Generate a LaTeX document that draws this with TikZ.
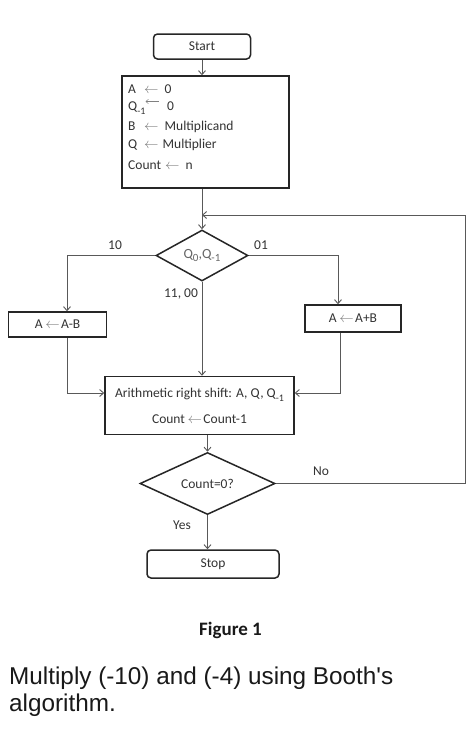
\documentclass[tikz,border=0pt]{standalone}
\usepackage{fontspec}
\setmainfont{Carlito}
\newfontfamily\qfont{Liberation Sans}
\usetikzlibrary{shapes.geometric,arrows.meta}
\newcommand{\la}{{\color{black!50}$\leftarrow$}}
\newcommand{\lead}[1]{\makebox[16pt][l]{#1}}
\newcommand{\sbm}[1]{\raisebox{-.6ex}{\fontsize{10}{11}\selectfont #1}}
\begin{document}
\begin{tikzpicture}[x=1pt,y=-1pt,
  every node/.style={font=\fontsize{13.5}{15}\selectfont, text=black!80},
  blk/.style={draw=black!85, line width=1.5pt, inner sep=0pt},
  rblk/.style={blk, rounded corners=4pt},
  dia/.style={blk, diamond, inner sep=0pt},
  conn/.style={draw=black!65, line width=0.9pt},
  arr/.style={conn, -{Straight Barb[length=4pt,width=7pt]}},
  tinyarr/.style={draw=black!50, line width=0.45pt, {Straight Barb[length=2.6pt,width=4.5pt]}-},
  lbl/.style={inner sep=0pt}
]
\fill[white] (0,0) rectangle (474,729);
\useasboundingbox (0,0) rectangle (474,729);

% boxes
\node[rblk, minimum width=97pt, minimum height=25pt] (start) at (202,46.5) {Start};
\node[blk, minimum width=167pt, minimum height=112pt] (init) at (205.5,132) {};
\node[lbl, anchor=west] (i1) at (128,89) {\lead{A}\la\hspace{.45em}0};
\node[lbl, anchor=west] (i2) at (128,108) {\lead{Q\sbm{-1}}\hspace{1.7em}0};
\coordinate (qa1) at (145.5,101.5);
\coordinate (qa2) at (158.5,101.5);
\draw[tinyarr] (qa1) -- (qa2);
\node[lbl, anchor=west] (i3) at (128,127) {\lead{B}\la\hspace{.45em}Multiplicand};
\node[lbl, anchor=west] (i4) at (128,145) {\lead{Q}\la\hspace{.3em}Multiplier};
\node[lbl, anchor=west] (i5) at (128,165) {Count\hspace{.3em}\la\hspace{.45em}n};

\node[dia, minimum width=92pt, minimum height=51pt] (d1) at (202,255.5)
  {\textcolor{black!60}{\fontsize{14}{16}\selectfont Q\raisebox{-.45ex}{\fontsize{11}{12}\selectfont 0},Q\raisebox{-.45ex}{\fontsize{11}{12}\selectfont -1}}};
\node[blk, minimum width=98pt, minimum height=25pt] (amb) at (57.5,324.5) {A\hspace{.2em}\la\hspace{.1em}A-B};
\node[blk, minimum width=96pt, minimum height=27pt] (apb) at (353,318.5) {A\hspace{.2em}\la\hspace{.1em}A+B};
\node[blk, minimum width=189pt, minimum height=58pt, align=center,
  font=\fontsize{13.5}{26}\selectfont] (ars) at (199.5,405.5)
  {Arithmetic right shift: A, Q, Q\sbm{-1}\\Count\hspace{.2em}\la\hspace{.1em}Count-1};
\node[dia, minimum width=135pt, minimum height=47pt] (d2) at (207.5,483.5) {Count=0?};
\node[rblk, minimum width=132pt, minimum height=28pt] (stop) at (213,564) {Stop};

% labels
\node[lbl] (l10) at (115,245) {10};
\node[lbl] (l01) at (261,245) {01};
\node[lbl] (l11) at (181,294) {11, 00};
\node[lbl] (lno) at (321,471) {No};
\node[lbl] (lyes) at (182,525) {Yes};

% connectors
\coordinate (loopend) at (202,215);
\coordinate (rt) at (465,215);
\draw[arr] (start.south) -- (start.south |- init.north);
\draw[arr] (init.south -| d1.north) -- (d1.north);
\draw[arr] (d2.east) -| (rt) -- (loopend);
\draw[arr] (d1.west) -| ([xshift=9.5pt]amb.north);
\draw[arr] (d1.east) -| ([xshift=-15pt]apb.north);
\draw[arr] (d1.south) -- (d1.south |- ars.north);
\draw[arr] ([xshift=9.5pt]amb.south) |- ([yshift=12.5pt]ars.west);
\draw[arr] ([xshift=-13pt]apb.south) |- ([yshift=12.5pt]ars.east);
\draw[arr] (ars.south -| d2.north) -- (d2.north);
\draw[arr] (d2.south) -- (d2.south |- stop.north);

% captions
\node[lbl, font=\fontsize{19}{22}\selectfont\bfseries, text=black!90] (fig) at (230.5,630) {Figure 1};
\node[lbl, anchor=base west, font=\qfont\fontsize{24.3}{27}\selectfont, text=black!90] (q1) at (9,684) {Multiply (-10) and (-4) using Booth's};
\node[lbl, anchor=base west, font=\qfont\fontsize{24.3}{27}\selectfont, text=black!90] (q2) at (9,711) {algorithm.};
\end{tikzpicture}
\end{document}
